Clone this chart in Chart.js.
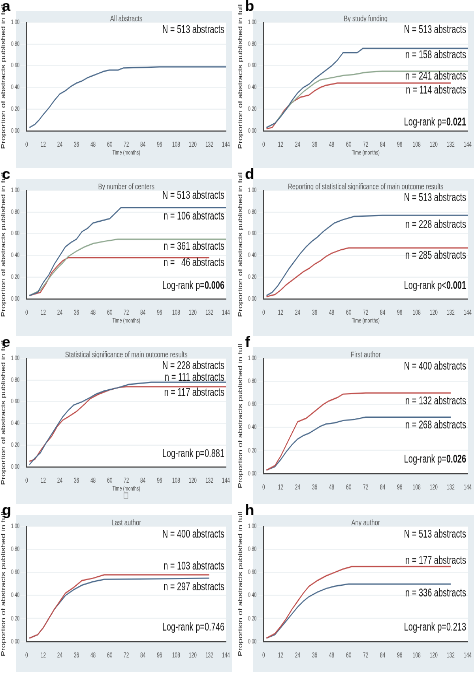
<!DOCTYPE html><html><head><meta charset="utf-8">
<script src="https://cdn.jsdelivr.net/npm/chart.js@4"></script>
<style>body{margin:0;background:#fff;width:474px;height:674px;position:relative;font-family:"Liberation Sans",Arial,sans-serif}
.p{position:absolute;width:237px;height:168px}.l{position:absolute;font-weight:bold;font-size:15px}</style></head><body>
<script>
const xTicks=[0,12,24,36,48,60,72,84,96,108,120,132,144];
const yTicks=[0,0.2,0.4,0.6,0.8,1.0];
const titles=["All abstracts","By study funding","By number of centers","Reporting of statistical significance of main outcome results","Statistical significance of main outcome results","First author","Last author","Any author"];
const letters=["a","b","c","d","e","f","g","h"];
const BLUE="#4d6b8c",RED="#c0504d",GREEN="#8fa890";
const aAll=[[2,.03],[6,.06],[9,.10],[12,.15],[16,.21],[20,.28],[24,.34],[28,.37],[32,.41],[36,.44],[40,.46],[44,.49],[48,.51],[52,.53],[56,.55],[60,.56],[66,.56],[70,.58],[84,.585],[96,.59],[144,.59]];
const b158=[[2,.03],[8,.07],[12,.13],[16,.2],[20,.28],[24,.35],[28,.4],[32,.43],[36,.48],[40,.52],[44,.56],[48,.6],[52,.65],[56,.72],[66,.72],[70,.76],[144,.76]];
const b241=[[2,.03],[8,.07],[12,.14],[16,.2],[20,.26],[24,.31],[28,.36],[32,.4],[36,.44],[40,.47],[48,.49],[56,.51],[64,.52],[72,.54],[84,.55],[144,.55]];
const b114=[[2,.02],[6,.03],[10,.1],[14,.18],[18,.24],[22,.28],[26,.31],[32,.33],[36,.37],[40,.4],[44,.42],[48,.43],[52,.44],[132,.44]];
const c106=[[2,.03],[8,.06],[12,.15],[16,.22],[20,.32],[24,.4],[28,.48],[32,.52],[36,.55],[40,.62],[44,.65],[48,.7],[60,.74],[68,.84],[144,.84]];
const c361=[[2,.03],[10,.08],[14,.15],[18,.22],[22,.28],[26,.33],[30,.39],[36,.44],[42,.48],[48,.51],[56,.53],[66,.55],[144,.55]];
const c46=[[2,.03],[10,.06],[14,.14],[18,.24],[22,.3],[26,.35],[30,.38],[132,.38]];
const d228=[[2,.03],[6,.06],[10,.12],[14,.2],[18,.28],[22,.35],[26,.42],[30,.48],[34,.53],[38,.57],[42,.62],[46,.66],[50,.7],[56,.73],[64,.76],[84,.77],[144,.77]];
const d285=[[2,.02],[8,.04],[12,.08],[16,.13],[20,.17],[24,.21],[28,.25],[32,.28],[36,.32],[40,.35],[44,.39],[48,.42],[54,.45],[60,.47],[144,.47]];
const e111=[[2,.02],[6,.08],[10,.13],[14,.22],[18,.3],[22,.38],[26,.46],[30,.52],[34,.57],[40,.6],[46,.64],[50,.67],[56,.7],[66,.73],[74,.76],[90,.78],[144,.78]];
const e117=[[2,.05],[6,.07],[10,.15],[14,.22],[18,.28],[22,.37],[26,.43],[30,.46],[36,.51],[42,.58],[46,.63],[52,.67],[60,.71],[66,.73],[72,.74],[144,.74]];
const f132=[[2,.03],[8,.07],[12,.15],[16,.25],[20,.35],[24,.45],[30,.48],[34,.52],[38,.56],[42,.6],[46,.63],[52,.66],[56,.69],[72,.7],[132,.7]];
const f268=[[2,.03],[8,.06],[12,.12],[16,.19],[20,.25],[24,.3],[28,.33],[32,.35],[36,.38],[40,.41],[44,.43],[50,.44],[56,.46],[64,.47],[72,.49],[132,.49]];
const g103=[[2,.03],[8,.06],[12,.12],[16,.2],[20,.28],[24,.35],[28,.42],[34,.47],[40,.53],[48,.55],[56,.58],[132,.58]];
const g297=[[2,.03],[8,.06],[12,.12],[16,.2],[20,.28],[24,.34],[28,.4],[34,.45],[40,.49],[48,.52],[56,.54],[132,.55]];
const h177=[[2,.03],[8,.07],[12,.13],[16,.2],[20,.28],[24,.35],[28,.42],[32,.48],[38,.53],[44,.57],[50,.6],[56,.63],[62,.65],[132,.65]];
const h336=[[2,.03],[8,.06],[12,.12],[16,.18],[20,.24],[24,.3],[28,.35],[32,.39],[38,.43],[44,.46],[50,.48],[60,.5],[132,.5]];
const panels=[
 {s:[[aAll,BLUE]],t:[["N = 513 abstracts",.93]],xt:true},
 {s:[[b158,BLUE],[b241,GREEN],[b114,RED]],t:[["N = 513 abstracts",.93],["n = 158 abstracts",.70],["n = 241 abstracts",.50],["n = 114 abstracts",.37],["Log-rank p=",.08,"0.021"]],xt:true},
 {s:[[c106,BLUE],[c361,GREEN],[c46,RED]],t:[["N = 513 abstracts",.95],["n = 106 abstracts",.76],["n = 361 abstracts",.48],["n =   46 abstracts",.33],["Log-rank p=",.12,"0.006"]],xt:true},
 {s:[[d228,BLUE],[d285,RED]],t:[["N = 513 abstracts",.93],["n = 228 abstracts",.68],["n = 285 abstracts",.40],["Log-rank p<",.12,"0.001"]],xt:true},
 {s:[[e111,BLUE],[e117,RED]],t:[["N = 228 abstracts",.93],["n = 111 abstracts",.82],["n = 117 abstracts",.68],["Log-rank p=0.881",.12]],xt:true,sq:true},
 {s:[[f132,RED],[f268,BLUE]],t:[["N = 400 abstracts",.93],["n = 132 abstracts",.63],["n = 268 abstracts",.42],["Log-rank p=",.12,"0.026"]]},
 {s:[[g103,RED],[g297,BLUE]],t:[["N = 400 abstracts",.93],["n = 103 abstracts",.65],["n = 297 abstracts",.47],["Log-rank p=0.746",.12]]},
 {s:[[h177,RED],[h336,BLUE]],t:[["N = 513 abstracts",.93],["n = 177 abstracts",.70],["n = 336 abstracts",.42],["Log-rank p=0.213",.12]]}
];
panels.forEach((p,i)=>{
 const col=i%2,row=Math.floor(i/2);
 const div=document.createElement('div');div.className='p';div.style.left=(col*237)+'px';div.style.top=(row*168)+'px';
 const cv=document.createElement('canvas');div.appendChild(cv);
 const L=document.createElement('div');L.className='l';L.textContent=letters[i];L.style.left=(col?8:2)+'px';L.style.top='-3px';div.appendChild(L);
 document.body.appendChild(div);
 const bg={id:'bg',beforeDraw(c){const x=c.ctx,a=c.chartArea;x.save();x.fillStyle='#e6edf1';x.fillRect(20,10,c.width-(col?0:6)-20,152);x.fillStyle='#fff';x.fillRect(a.left,a.top,a.right-a.left,a.bottom-a.top);
  x.fillStyle='#555';x.font='7.5px "Liberation Sans"';x.textAlign='center';x.fillText(titles[i],(a.left+a.right)/2,19);
  if(p.xt){x.font='5.5px "Liberation Sans"';x.fillText('Time (months)',(a.left+a.right)/2,c.height-12);}
  if(p.sq){x.strokeStyle='#888';x.lineWidth=.6;x.strokeRect((a.left+a.right)/2-3,c.height-10,5,5);}
  x.restore();},
  afterDatasetsDraw(c){const x=c.ctx,a=c.chartArea,ys=c.scales.y;x.save();x.fillStyle='#111';x.textAlign='right';x.textBaseline='middle';
  p.t.forEach(t=>{const y=ys.getPixelForValue(t[1]),r=a.right-2;x.font='10px "Liberation Sans"';
   if(t[2]){x.font='bold 10px "Liberation Sans"';const w=x.measureText(t[2]).width;x.fillText(t[2],r,y);x.font='10px "Liberation Sans"';x.fillText(t[0],r-w,y);}else x.fillText(t[0],r,y);});
  x.restore();}};
 new Chart(cv,{type:'line',data:{datasets:p.s.map(s=>({data:s[0].map(d=>({x:d[0],y:d[1]})),borderColor:s[1],borderWidth:1.1,pointRadius:0,stepped:false,fill:false}))},
 options:{responsive:false,animation:false,devicePixelRatio:2,layout:{padding:{left:0,right:col?8:14,top:20,bottom:p.xt?16:10}},
  plugins:{legend:{display:false},tooltip:{enabled:false}},
  scales:{x:{type:'linear',min:0,max:144,afterBuildTicks(s){s.ticks=xTicks.map(v=>({value:v}));},grid:{display:false},border:{color:'#444'},ticks:{font:{size:6},color:'#555',padding:1,maxRotation:0}},
   y:{min:0,max:1,afterBuildTicks(s){s.ticks=yTicks.map(v=>({value:v}));},grid:{color:'#eef2f4'},border:{color:'#444'},ticks:{font:{size:5.5},color:'#555',padding:1,callback:v=>v.toFixed(2)},
   title:{display:true,text:'Proportion of abstracts published in full',font:{size:7.5},color:'#222',padding:{top:0,bottom:4}}}}},
 plugins:[bg]});
 cv.style.width='237px';cv.style.height='168px';
});
</script></body></html>
